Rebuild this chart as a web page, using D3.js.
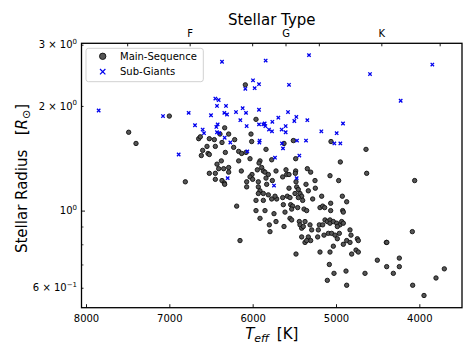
<!DOCTYPE html>
<html><head><meta charset="utf-8">
<script src="https://cdn.jsdelivr.net/npm/d3@7"></script>
<style>body{margin:0;background:#fff}svg{display:block;font-family:"DejaVu Sans",sans-serif}</style>
</head><body><svg id="c" width="474" height="355"></svg>
<script>
const msTeff=[7000,7488,7400,6336,6648,6628,6520,6460,6392,6368,6288,6216,6548,6448,6600,6536,6520,6616,6328,6228,6168,6168,6428,6376,6348,6288,6408,6520,6448,6288,6136,6448,6368,6808,
6088,5960,6020,6012,6132,6080,5840,5512,5624,5060,4640,6032,5912,5924,5772,5484,4948,6008,5944,5892,5872,5852,5812,5720,5600,5592,5564,5484,5488,5344,5304,5072,4632,5640,5764,6032,6000,6072,5932,5480,5252,4968,4056,
6340,6336,6072,6192,6152,
5840,5932,5832,5564,5472,5452,5492,5432,5412,5400,5452,5360,5332,5248,5172,5280,4924,5912,5932,5872,5812,5772,5712,5732,5640,5584,5552,5960,5872,5632,5544,5520,5532,5460,5384,5352,5192,5160,5136,5064,5064,4920,5960,5852,5744,5612,5912,5720,5552,5532,5440,5432,5412,5372,5392,5312,5800,5792,5624,5292,5212,5200,5132,5104,5072,5160,5072,5032,4992,4952,4984,4932,5412,5332,5304,5372,5352,5220,5144,5092,5052,5012,4960,4984,4912,5032,5072,5192,5480,5080,5024,5104,
4872,4912,4912,4832,4820,4872,4832,4744,4732,4760,4732,4812,4880,4872,4652,4504,4396,4390,4392,4312,4240,4240,4084,4080,3944,3800,3700];
const msRadius=[1.87,1.68,1.56,1.73,1.61,1.63,1.61,1.60,1.66,1.57,1.66,1.60,1.53,1.53,1.49,1.46,1.45,1.44,1.47,1.52,1.48,1.39,1.36,1.39,1.32,1.33,1.32,1.28,1.28,1.29,1.30,1.23,1.22,1.21,
2.30,1.83,1.66,1.58,1.46,1.47,1.50,1.59,1.56,1.58,1.50,1.41,1.39,1.37,1.40,1.41,1.38,1.27,1.31,1.33,1.30,1.29,1.27,1.30,1.31,1.27,1.27,1.30,1.28,1.32,1.29,1.26,1.28,1.25,1.22,1.25,1.23,1.21,1.21,1.21,1.22,1.22,1.22,
1.20,1.19,1.17,1.03,0.82,
1.24,1.17,1.19,1.16,1.17,1.15,1.12,1.12,1.10,1.07,1.09,1.19,1.14,1.16,1.10,1.08,1.10,1.14,1.12,1.12,1.11,1.08,1.08,1.10,1.09,1.10,1.09,1.07,1.07,1.04,1.04,1.03,1.01,1.02,1.01,1.00,1.02,1.03,1.02,1.05,1.00,1.00,1.00,1.00,0.98,0.99,0.95,0.93,0.95,0.94,0.93,0.91,0.89,0.93,0.90,0.91,0.91,0.87,0.90,0.88,0.88,0.91,0.94,0.93,0.94,0.91,0.92,0.93,0.92,0.91,0.90,0.93,0.84,0.84,0.82,0.81,0.82,0.84,0.85,0.86,0.86,0.85,0.86,0.83,0.80,0.79,0.76,0.76,0.75,0.70,0.66,0.63,
1.06,0.99,0.92,0.88,0.85,0.82,0.81,0.83,0.82,0.77,0.76,0.75,0.67,0.61,0.66,0.72,0.81,0.81,0.69,0.66,0.73,0.69,0.87,0.61,0.57,0.64,0.68];
const sgTeff=[6368,7848,7076,6768,6448,6408,6428,6320,6500,6340,6308,6200,6148,6692,6600,6584,6436,6420,6428,6400,6336,6268,6888,6300,
5844,5324,3844,4592,4224,5996,5924,5976,6088,5564,6120,6080,5924,6072,5924,5872,5848,5856,5764,5804,5768,5692,5576,5476,5500,5604,5652,5604,5344,4916,5176,4992,5020,4948,5360,5468,5916,5920,5648,5636,5440,5732,6064,5472,5744];
const sgRadius=[2.68,1.94,1.87,1.91,2.10,2.08,2.00,2.00,1.88,1.91,1.89,1.92,1.82,1.76,1.71,1.67,1.74,1.77,1.68,1.67,1.62,1.57,1.45,1.24,
2.70,2.80,2.63,2.47,2.07,2.37,2.31,2.25,2.24,2.30,1.97,1.91,1.95,1.75,1.77,1.77,1.75,1.78,1.80,1.71,1.69,1.85,1.92,1.86,1.81,1.75,1.71,1.68,1.82,1.78,1.69,1.67,1.56,1.56,1.59,1.59,1.59,1.57,1.56,1.51,1.44,1.42,1.48,1.24,1.18];
const xTicks=[8000,7000,6000,5000,4000];
const yTickVals=[3,2,1,0.6];
const yTickMant=["3 × 10","2 × 10","10","6 × 10"];
const yTickExp=["0","0","0","−1"];
const yMinorTicks=[0.7,0.8,0.9];
const typeBounds=[7500,6000,5200,3750];
const typeLabels=["F","G","K"];
const typeCenters=[6750,5600,4450];
const seriesNames=["Main-Sequence","Sub-Giants"];

const svg=d3.select("#c");
const L=81.5,R=462,T=43.3,B=307.7;
const x=d3.scaleLinear().domain([8054,3488]).range([L,R]);
const y=d3.scaleLog().domain([0.5257,3.028]).range([B,T]);

// data
const ms=msTeff.map((t,i)=>({t,r:msRadius[i]}));
const sg=sgTeff.map((t,i)=>({t,r:sgRadius[i]}));
const plot=svg.append("g");
plot.selectAll("circle").data(ms).enter().append("circle")
 .attr("cx",d=>x(d.t)).attr("cy",d=>y(d.r)).attr("r",2.2)
 .attr("fill","#555").attr("stroke","#111").attr("stroke-width",0.9);
const cr=1.7;
plot.selectAll("path.sg").data(sg).enter().append("path").attr("class","sg")
 .attr("transform",d=>`translate(${x(d.t)},${y(d.r)})`)
 .attr("d",`M${-cr},${-cr}L${cr},${cr}M${-cr},${cr}L${cr},${-cr}`)
 .attr("stroke","#0000ee").attr("stroke-width",1.3).attr("fill","none");

// bottom axis
const xa=svg.append("g").attr("transform",`translate(0,${B})`)
 .call(d3.axisBottom(x).tickValues(xTicks).tickSize(-3.5).tickPadding(7).tickFormat(d3.format("d")));
xa.select(".domain").remove();
xa.selectAll("text").attr("font-size",10).attr("font-family","DejaVu Sans").attr("fill","#000");
xa.selectAll("line").attr("stroke","#000").attr("stroke-width",0.9);

// left axis ticks
const ya=svg.append("g").attr("transform",`translate(${L},0)`);
ya.call(d3.axisLeft(y).tickValues(yTickVals).tickSize(-2).tickFormat(""));
ya.select(".domain").remove();
ya.selectAll("line").attr("stroke","#000").attr("stroke-width",0.9).attr("x2",d=>d===1?3.5:2);
const ym=svg.append("g").attr("transform",`translate(${L},0)`);
ym.call(d3.axisLeft(y).tickValues(yMinorTicks).tickSize(-2).tickFormat(""));
ym.select(".domain").remove();
ym.selectAll("line").attr("stroke","#000").attr("stroke-width",0.7);
yTickVals.forEach((v,i)=>{
  const t=svg.append("text").attr("x",L-4.5).attr("y",y(v)+3.6).attr("text-anchor","end")
   .attr("font-size",10).attr("fill","#000");
  t.append("tspan").text(yTickMant[i]);
  t.append("tspan").attr("dy",-4.5).attr("font-size",7).text(yTickExp[i]);
});

// top axis
const tg=svg.append("g");
typeBounds.concat(typeCenters).forEach(v=>{
  tg.append("line").attr("x1",x(v)).attr("x2",x(v)).attr("y1",T).attr("y2",T+3).attr("stroke","#000").attr("stroke-width",0.9);
});
typeLabels.forEach((s,i)=>{
  tg.append("text").attr("x",x(typeCenters[i])).attr("y",T-6.5).attr("text-anchor","middle").attr("font-size",10).text(s);
});

// frame
svg.append("rect").attr("x",L).attr("y",T).attr("width",R-L).attr("height",B-T)
 .attr("fill","none").attr("stroke","#000").attr("stroke-width",1.3);

// titles
svg.append("text").attr("x",(L+R)/2).attr("y",24.5).attr("text-anchor","middle").attr("font-size",15).text("Stellar Type");
const xl=svg.append("text").attr("x",(L+R)/2).attr("y",338.5).attr("text-anchor","middle").attr("font-size",15);
xl.append("tspan").attr("font-style","italic").text("T");
xl.append("tspan").attr("font-style","italic").attr("font-size",11).attr("dy",3).text("eff");
xl.append("tspan").attr("dy",-3).text("\u2009 [K]");
const yl=svg.append("text").attr("transform",`translate(26.5,178.5) rotate(-90)`).attr("text-anchor","middle").attr("font-size",15);
yl.append("tspan").text("Stellar Radius\u00a0\u00a0\u00a0[");
yl.append("tspan").attr("font-style","italic").text("R");
yl.append("tspan").attr("font-size",11).attr("dy",3).text("\u2299");
yl.append("tspan").attr("dy",-3).text("]");

// legend
const lg=svg.append("g");
lg.append("rect").attr("x",86).attr("y",48.3).attr("width",117.3).attr("height",33.4).attr("rx",2.5)
 .attr("fill","#fff").attr("fill-opacity",0.8).attr("stroke","#ccc").attr("stroke-width",0.9);
lg.append("circle").attr("cx",102.7).attr("cy",56.3).attr("r",3.2).attr("fill","#555").attr("stroke","#111").attr("stroke-width",0.9);
const lc=2.7;
lg.append("path").attr("transform","translate(102.7,71.7)").attr("d",`M${-lc},${-lc}L${lc},${lc}M${-lc},${lc}L${lc},${-lc}`)
 .attr("stroke","#0000ee").attr("stroke-width",1.2);
seriesNames.forEach((s,i)=>{
  lg.append("text").attr("x",120).attr("y",[60,75.4][i]).attr("font-size",10).text(s);
});
</script></body></html>
